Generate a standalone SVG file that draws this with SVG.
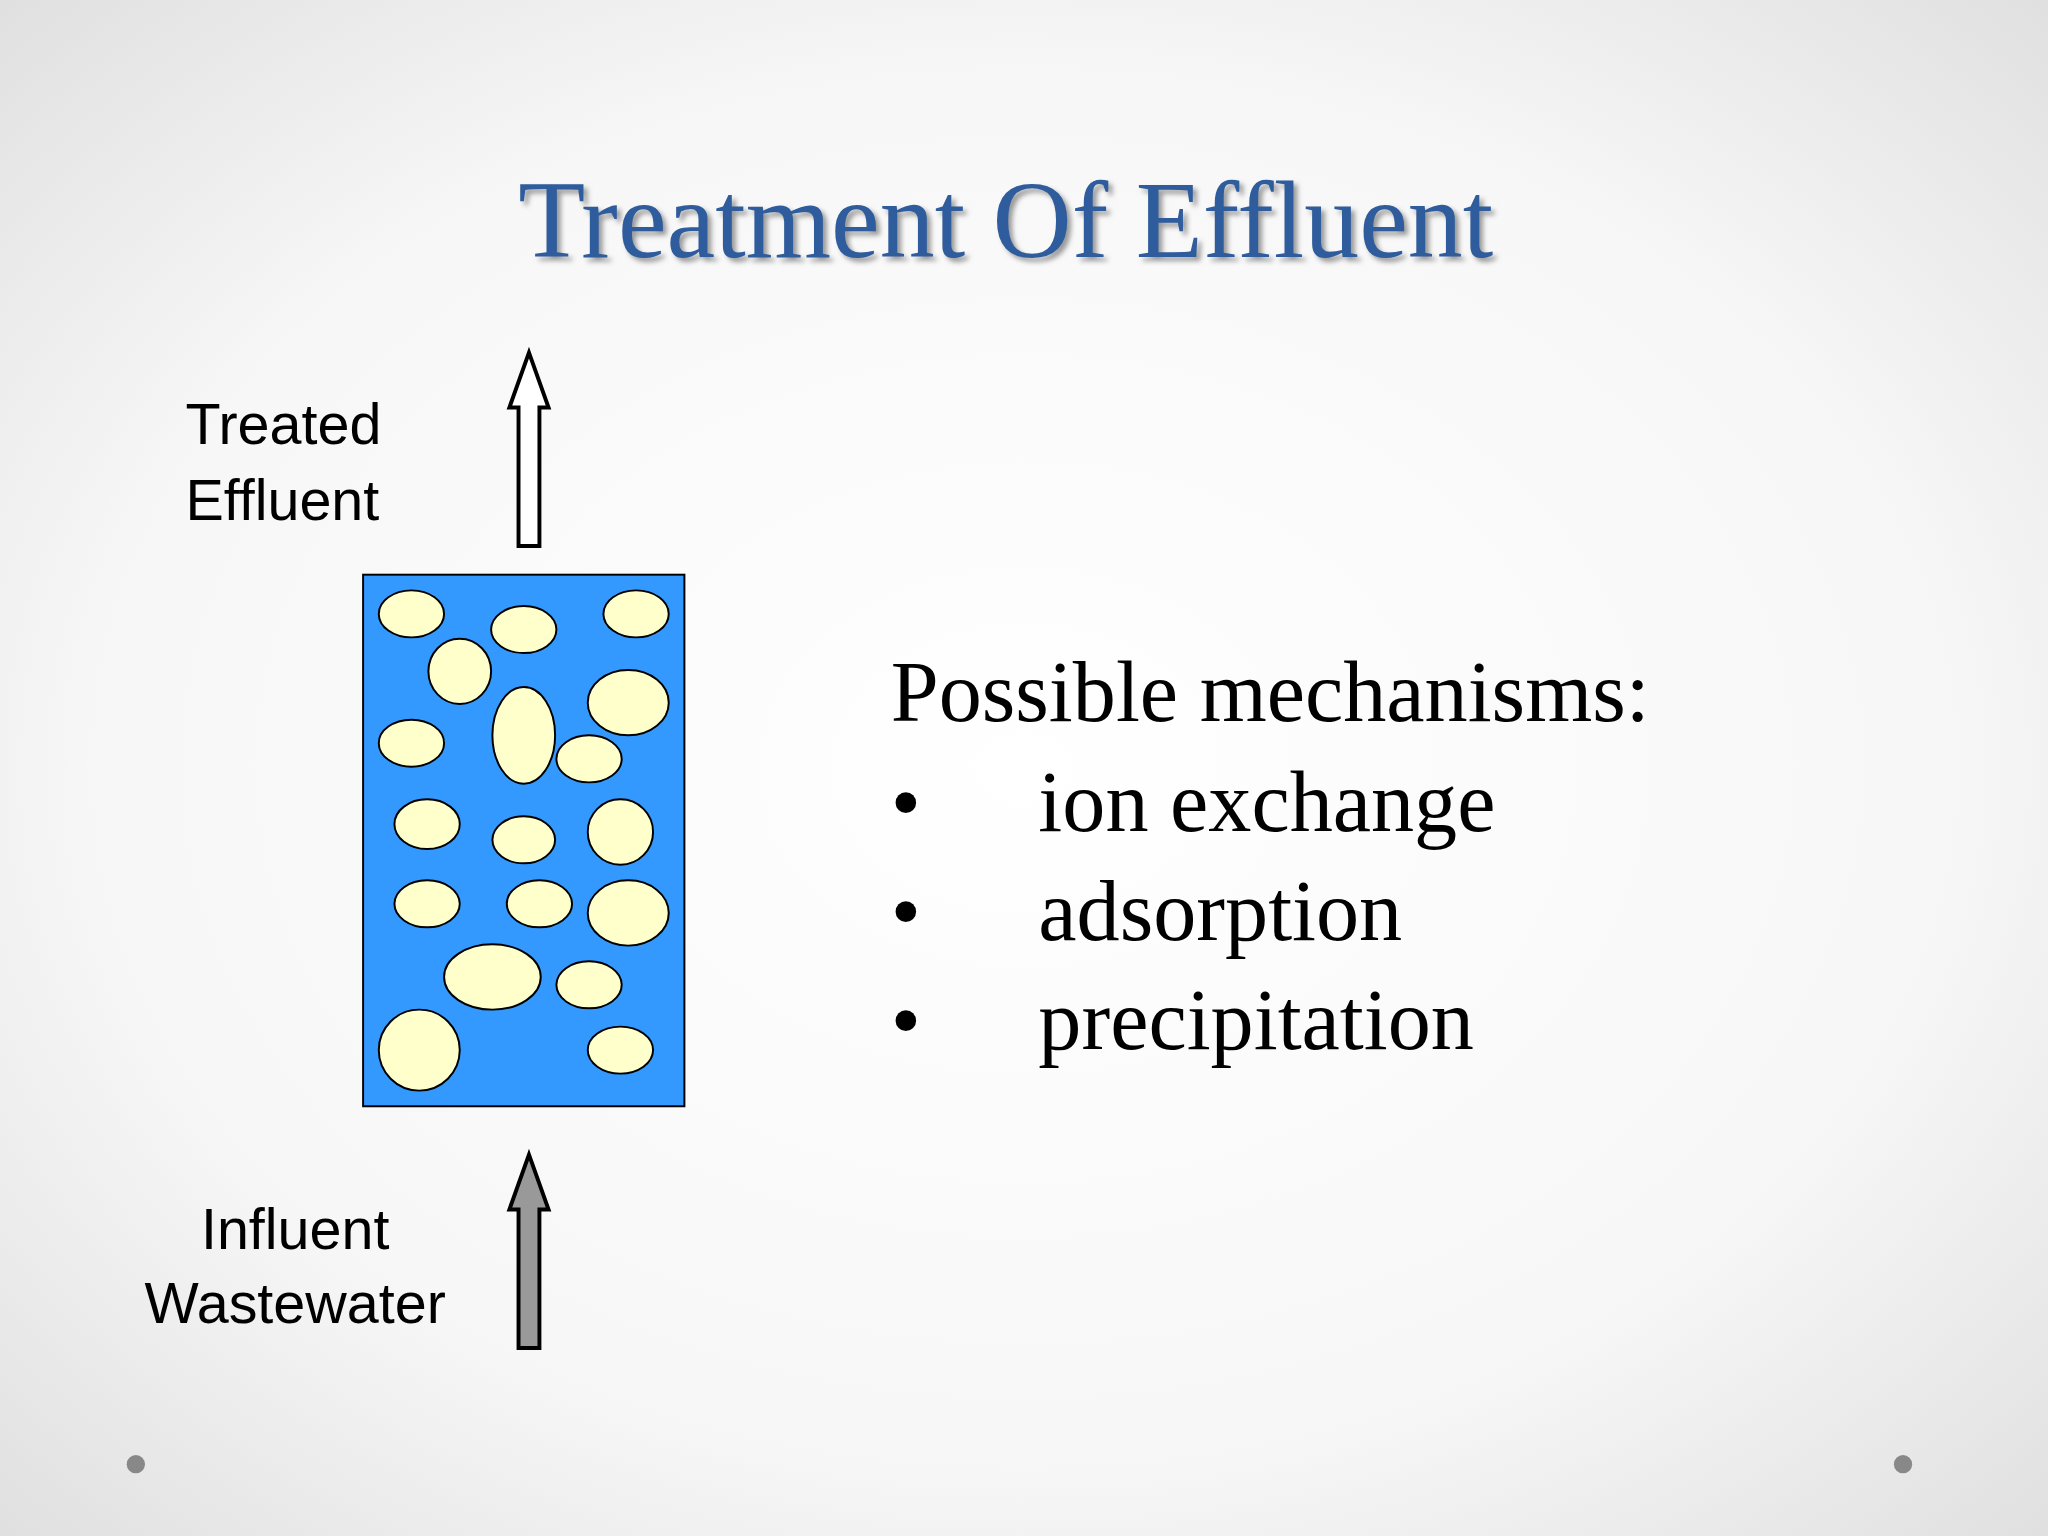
<svg xmlns="http://www.w3.org/2000/svg" width="2048" height="1536" viewBox="0 0 2048 1536">
<defs>
<radialGradient id="bg" cx="50%" cy="50%" r="75%">
<stop offset="0" stop-color="#ffffff"/><stop offset="0.6" stop-color="#f7f7f7"/><stop offset="1" stop-color="#dcdcdc"/>
</radialGradient>
<filter id="sh" x="-5%" y="-20%" width="110%" height="140%"><feGaussianBlur stdDeviation="2"/></filter>
</defs>
<style>
.bead{fill:#FFFFCC;stroke:#000;stroke-width:1.5}
.lab{font-family:"Liberation Sans",Arial,sans-serif;font-size:44px;fill:#000}
.ser{font-family:"Liberation Serif","Times New Roman",serif;font-size:66px;fill:#000}
</style>
<rect width="2048" height="1536" fill="url(#bg)"/>
<g transform="scale(1.30612)">
<g id="title">
<text x="773" y="200" text-anchor="middle" font-family="Liberation Serif,serif" font-size="84" fill="#999" filter="url(#sh)">Treatment Of Effluent</text>
<text x="770" y="197" text-anchor="middle" font-family="Liberation Serif,serif" font-size="84" fill="#2F5C9C">Treatment Of Effluent</text>
</g>
<g id="column">
<rect x="278" y="440" width="246" height="407" fill="#3399FF" stroke="#000" stroke-width="1.5"/>
<ellipse class="bead" cx="315" cy="470" rx="25" ry="18"/>
<ellipse class="bead" cx="401" cy="482" rx="25" ry="18"/>
<ellipse class="bead" cx="487" cy="470" rx="25" ry="18"/>
<ellipse class="bead" cx="352" cy="514" rx="24" ry="25"/>
<ellipse class="bead" cx="481" cy="538" rx="31" ry="25"/>
<ellipse class="bead" cx="315" cy="569" rx="25" ry="18"/>
<ellipse class="bead" cx="401" cy="563" rx="24" ry="37"/>
<ellipse class="bead" cx="451" cy="581" rx="25" ry="18"/>
<ellipse class="bead" cx="327" cy="631" rx="25" ry="19"/>
<ellipse class="bead" cx="401" cy="643" rx="24" ry="18"/>
<ellipse class="bead" cx="475" cy="637" rx="25" ry="25"/>
<ellipse class="bead" cx="327" cy="692" rx="25" ry="18"/>
<ellipse class="bead" cx="413" cy="692" rx="25" ry="18"/>
<ellipse class="bead" cx="481" cy="699" rx="31" ry="25"/>
<ellipse class="bead" cx="377" cy="748" rx="37" ry="25"/>
<ellipse class="bead" cx="451" cy="754" rx="25" ry="18"/>
<ellipse class="bead" cx="321" cy="804" rx="31" ry="31"/>
<ellipse class="bead" cx="475" cy="804" rx="25" ry="18"/>
</g>
<g id="connectors">
<path d="M405,270 L420,312 L413,312 L413,418 L397,418 L397,312 L390,312 Z" fill="#fff" stroke="#000" stroke-width="3" stroke-linejoin="miter"/>
<path d="M405,884 L420,926 L413,926 L413,1032 L397,1032 L397,926 L390,926 Z" fill="#999" stroke="#000" stroke-width="3"/>
</g>
<g id="labels">
<text class="lab" x="142" y="340">Treated</text>
<text class="lab" x="142" y="398">Effluent</text>
<text class="lab" x="226" y="956" text-anchor="middle">Influent</text>
<text class="lab" x="226" y="1013" text-anchor="middle">Wastewater</text>
</g>
<g id="mechanisms">
<text class="ser" x="682" y="552">Possible mechanisms:</text>
<text class="ser" x="682" y="636">•</text><text class="ser" x="795" y="636">ion exchange</text>
<text class="ser" x="682" y="720">•</text><text class="ser" x="795" y="720">adsorption</text>
<text class="ser" x="682" y="803">•</text><text class="ser" x="795" y="803">precipitation</text>
</g>
<circle cx="104" cy="1121" r="7" fill="#888"/>
<circle cx="1457" cy="1121" r="7" fill="#888"/>
</g>
</svg>
